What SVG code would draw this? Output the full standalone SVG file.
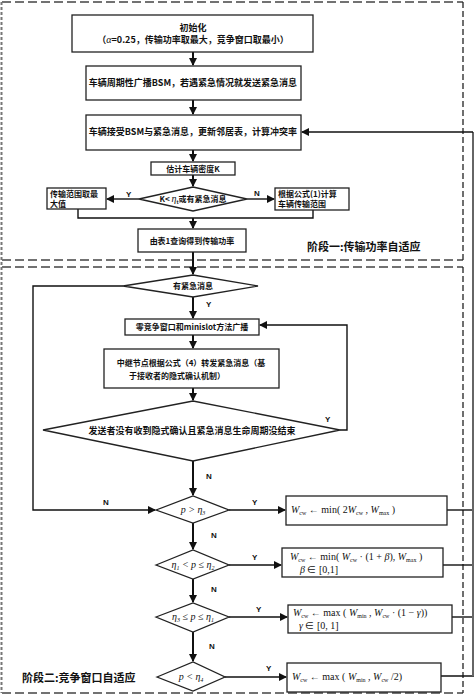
<svg xmlns="http://www.w3.org/2000/svg" width="474" height="695" viewBox="0 0 474 695">
<style>
.bx{fill:#fff;stroke:#222;stroke-width:1.3}
.t{font-family:"Noto Sans CJK SC","Liberation Sans",sans-serif;font-size:9px;font-weight:bold;fill:#111}
.s{font-size:8px}
.m{font-family:"Liberation Serif",serif;font-size:10px;fill:#111}
.mi{font-style:italic}
.lb{font-family:"Liberation Sans",sans-serif;font-size:8px;font-weight:bold;fill:#111}
.ph{font-family:"Noto Sans CJK SC",sans-serif;font-size:11px;font-weight:bold;fill:#111}
.c{fill:none;stroke:#111;stroke-width:1.4}
.v{fill:none;stroke:#111;stroke-width:2}
.d1{fill:none;stroke:#444;stroke-width:1.5;stroke-dasharray:9,4}
.d2{fill:none;stroke:#777;stroke-width:2;stroke-dasharray:3,2}
.d3{fill:none;stroke:#222;stroke-width:1.3;stroke-dasharray:6,3}
</style>
<defs>
<marker id="ah" markerWidth="8" markerHeight="8" refX="7" refY="4" orient="auto" markerUnits="userSpaceOnUse">
<path d="M0,0 L8,4 L0,8 Z" fill="#111"/>
</marker>
</defs>
<rect width="474" height="695" fill="#fff"/>
<g id="phases">
<line class="d1" x1="2" y1="2" x2="463" y2="2"/>
<line class="d1" x1="2" y1="260" x2="463" y2="260"/>
<line class="d1" x1="2" y1="267" x2="463" y2="267"/>
<line class="d1" x1="2" y1="693" x2="463" y2="693"/>
<line class="d2" x1="1.5" y1="2" x2="1.5" y2="693"/>
<line class="d3" x1="463" y1="2" x2="463" y2="260"/>
<line class="d3" x1="463" y1="267" x2="463" y2="693"/>
<text class="ph" x="307" y="251">阶段一:传输功率自适应</text>
<text class="ph" x="22" y="682">阶段二:竞争窗口自适应</text>
</g>
<g id="connectors">
<line class="v" x1="193" y1="52" x2="193" y2="65" marker-end="url(#ah)"/>
<line class="v" x1="193" y1="100" x2="193" y2="114" marker-end="url(#ah)"/>
<line class="v" x1="193" y1="150" x2="193" y2="161" marker-end="url(#ah)"/>
<line class="v" x1="193" y1="175" x2="193" y2="186" marker-end="url(#ah)"/>
<line class="c" x1="139" y1="199" x2="107" y2="199" marker-end="url(#ah)"/>
<line class="c" x1="247" y1="199" x2="274" y2="199" marker-end="url(#ah)"/>
<polyline class="c" points="78,209 78,218 313,218 313,210"/>
<line class="v" x1="193" y1="218" x2="193" y2="228" marker-end="url(#ah)"/>
<line class="v" x1="193" y1="252" x2="193" y2="274" marker-end="url(#ah)"/>
<line class="v" x1="193" y1="297" x2="193" y2="318" marker-end="url(#ah)"/>
<polyline class="c" points="123,286 33,286 33,510 155,510" marker-end="url(#ah)"/>
<line class="v" x1="193" y1="335" x2="193" y2="348" marker-end="url(#ah)"/>
<line class="v" x1="193" y1="388" x2="193" y2="400" marker-end="url(#ah)"/>
<polyline class="c" points="340,430 347,430 347,325 260,325" marker-end="url(#ah)"/>
<line class="v" x1="193" y1="461" x2="193" y2="495" marker-end="url(#ah)"/>
<line class="c" x1="229" y1="510" x2="285" y2="510" marker-end="url(#ah)"/>
<line class="v" x1="193" y1="523" x2="193" y2="549" marker-end="url(#ah)"/>
<line class="c" x1="229" y1="565" x2="281" y2="565" marker-end="url(#ah)"/>
<line class="v" x1="193" y1="579" x2="193" y2="602" marker-end="url(#ah)"/>
<line class="c" x1="229" y1="617" x2="287" y2="617" marker-end="url(#ah)"/>
<line class="v" x1="193" y1="632" x2="193" y2="661" marker-end="url(#ah)"/>
<line class="c" x1="225" y1="677" x2="286" y2="677" marker-end="url(#ah)"/>
<line class="c" x1="447" y1="510" x2="474" y2="510"/>
<line class="c" x1="443" y1="565" x2="474" y2="565"/>
<line class="c" x1="452" y1="617" x2="474" y2="617"/>
<line class="c" x1="441" y1="676" x2="474" y2="676"/>
<line x1="473" y1="676" x2="473" y2="132" stroke="#666" stroke-width="2"/>
<line class="c" x1="473" y1="132" x2="302" y2="132" marker-end="url(#ah)"/>
<text class="lb" x="126" y="197">Y</text>
<text class="lb" x="254" y="196">N</text>
<text class="lb" x="206" y="307">Y</text>
<text class="lb" x="325" y="422">Y</text>
<text class="lb" x="206" y="479">N</text>
<text class="lb" x="103" y="505">N</text>
<text class="lb" x="252" y="505">Y</text>
<text class="lb" x="211" y="538">N</text>
<text class="lb" x="252" y="560">Y</text>
<text class="lb" x="211" y="592">N</text>
<text class="lb" x="256" y="612">Y</text>
<text class="lb" x="209" y="649">N</text>
<text class="lb" x="266" y="671">Y</text>
</g>
<g id="n_init">
<rect class="bx" x="72" y="15" width="241" height="37"/>
<text class="t" x="193" y="31" text-anchor="middle">初始化</text>
<text class="t" x="193" y="43" text-anchor="middle">（<tspan class="m mi" font-weight="normal">α</tspan>=0.25，传输功率取最大，竞争窗口取最小）</text>
</g>
<g id="n_bsm">
<rect class="bx" x="86" y="66" width="215" height="34"/>
<text class="t" x="193" y="86" text-anchor="middle">车辆周期性广播BSM，若遇紧急情况就发送紧急消息</text>
</g>
<g id="n_recv">
<rect class="bx" x="86" y="115" width="215" height="35"/>
<text class="t" x="193" y="135" text-anchor="middle">车辆接受BSM与紧急消息，更新邻居表，计算冲突率</text>
</g>
<g id="n_density">
<rect class="bx" x="151" y="162" width="84" height="13"/>
<text class="t s" x="193" y="171.5" text-anchor="middle">估计车辆密度K</text>
</g>
<g id="n_dec1">
<polygon class="bx" points="139,199 193,187 247,199 193,211"/>
<text class="t s" x="193" y="202" text-anchor="middle">K&lt; <tspan class="m mi" font-weight="normal" font-size="9">η</tspan><tspan font-size="5" dy="2">t</tspan><tspan dy="-2">或有紧急消息</tspan></text>
</g>
<g id="n_maxrange">
<rect class="bx" x="47" y="188" width="59" height="21"/>
<text class="t s" x="50" y="196.5">传输范围取最</text>
<text class="t s" x="50" y="206.5">大值</text>
</g>
<g id="n_calcrange">
<rect class="bx" x="275" y="188" width="74" height="22"/>
<text class="t s" x="278" y="196.5">根据公式(1)计算</text>
<text class="t s" x="278" y="206.5">车辆传输范围</text>
</g>
<g id="n_power">
<rect class="bx" x="138" y="229" width="108" height="23"/>
<text class="t s" x="192" y="244" text-anchor="middle">由表1查询得到传输功率</text>
</g>
<g id="n_dec2">
<polygon class="bx" points="123,286 193,275 258,286 193,297"/>
<text class="t s" x="193" y="289" text-anchor="middle">有紧急消息</text>
</g>
<g id="n_zerocw">
<rect class="bx" x="125" y="319" width="134" height="16"/>
<text class="t s" x="192" y="330" text-anchor="middle">零竞争窗口和minislot方法广播</text>
</g>
<g id="n_relay">
<rect class="bx" x="104" y="349" width="175" height="39"/>
<text class="t s" x="191" y="366" text-anchor="middle">中继节点根据公式（4）转发紧急消息（基</text>
<text class="t s" x="177" y="379" text-anchor="middle">于接收者的隐式确认机制）</text>
</g>
<g id="n_dec3">
<polygon class="bx" points="43,430 193,401 340,430 193,461"/>
<text class="t" x="192" y="434" text-anchor="middle">发送者没有收到隐式确认且紧急消息生命周期没结束</text>
</g>
<g id="n_d4">
<polygon class="bx" points="156,510 193,496 229,510 193,523"/>
<text class="m mi" x="193" y="513" text-anchor="middle">p &gt; η<tspan font-size="6" dy="2">3</tspan></text>
</g>
<g id="n_b4">
<rect class="bx" x="286" y="496" width="161" height="29"/>
<text class="m" x="291" y="513"><tspan class="mi">W</tspan><tspan font-size="6" dy="2">cw</tspan><tspan dy="-2"> ← min( 2</tspan><tspan class="mi">W</tspan><tspan font-size="6" dy="2">cw</tspan><tspan dy="-2"> , </tspan><tspan class="mi">W</tspan><tspan font-size="6" dy="2">max</tspan><tspan dy="-2"> )</tspan></text>
</g>
<g id="n_d5">
<polygon class="bx" points="156,565 193,550 229,565 193,579"/>
<text class="m mi" x="193" y="568" text-anchor="middle">η<tspan font-size="6" dy="2">1</tspan><tspan dy="-2"> &lt; p ≤ η</tspan><tspan font-size="6" dy="2">2</tspan></text>
</g>
<g id="n_b5">
<rect class="bx" x="282" y="548" width="161" height="29"/>
<text class="m" x="290" y="560"><tspan class="mi">W</tspan><tspan font-size="6" dy="2">cw</tspan><tspan dy="-2"> ← min( </tspan><tspan class="mi">W</tspan><tspan font-size="6" dy="2">cw</tspan><tspan dy="-2"> · (1 + </tspan><tspan class="mi">β</tspan><tspan>), </tspan><tspan class="mi">W</tspan><tspan font-size="6" dy="2">max</tspan><tspan dy="-2"> )</tspan></text>
<text class="m" x="300" y="573"><tspan class="mi">β</tspan> ∈ [0,1]</text>
</g>
<g id="n_d6">
<polygon class="bx" points="156,617 193,603 229,617 193,632"/>
<text class="m mi" x="193" y="620" text-anchor="middle">η<tspan font-size="6" dy="2">3</tspan><tspan dy="-2"> ≤ p ≤ η</tspan><tspan font-size="6" dy="2">1</tspan></text>
</g>
<g id="n_b6">
<rect class="bx" x="288" y="605" width="164" height="28"/>
<text class="m" x="293" y="616"><tspan class="mi">W</tspan><tspan font-size="6" dy="2">cw</tspan><tspan dy="-2"> ← max ( </tspan><tspan class="mi">W</tspan><tspan font-size="6" dy="2">min</tspan><tspan dy="-2"> , </tspan><tspan class="mi">W</tspan><tspan font-size="6" dy="2">cw</tspan><tspan dy="-2"> · (1 − </tspan><tspan class="mi">γ</tspan><tspan>))</tspan></text>
<text class="m" x="299" y="629"><tspan class="mi">γ</tspan> ∈ [0, 1]</text>
</g>
<g id="n_d7">
<polygon class="bx" points="157,677 193,662 225,677 193,691"/>
<text class="m mi" x="191" y="680" text-anchor="middle">p &lt; η<tspan font-size="6" dy="2">4</tspan></text>
</g>
<g id="n_b7">
<rect class="bx" x="287" y="663" width="154" height="29"/>
<text class="m" x="292" y="680"><tspan class="mi">W</tspan><tspan font-size="6" dy="2">cw</tspan><tspan dy="-2"> ← max ( </tspan><tspan class="mi">W</tspan><tspan font-size="6" dy="2">min</tspan><tspan dy="-2"> , </tspan><tspan class="mi">W</tspan><tspan font-size="6" dy="2">cw</tspan><tspan dy="-2"> /2)</tspan></text>
</g>
</svg>
